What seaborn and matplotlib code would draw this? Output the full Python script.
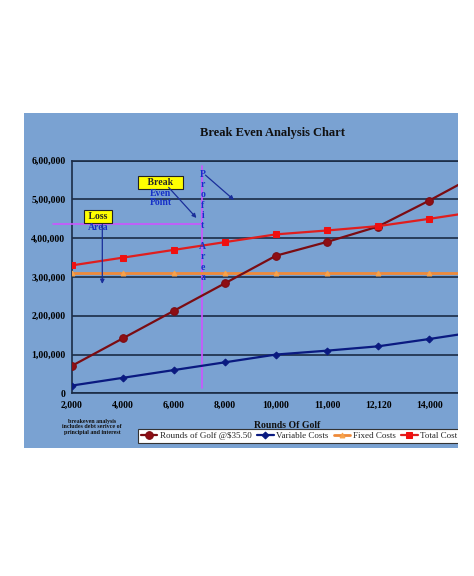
import matplotlib
matplotlib.use("Agg")
import matplotlib.pyplot as plt
import seaborn as sns
from matplotlib.patches import Rectangle

# categories on the x axis (last one runs off the right edge of the picture)
rounds = ['2,000', '4,000', '6,000', '8,000', '10,000', '11,000', '12,120', '14,000', '16,000']
# series values
revenue = [71000, 142000, 213000, 284000, 355000, 390500, 430260, 497000, 568000]
variable_costs = [20000, 40000, 60000, 80000, 100000, 110000, 121200, 140000, 160000]
fixed_costs = [310000, 310000, 310000, 310000, 310000, 310000, 310000, 310000, 310000]
total_costs = [330000, 350000, 370000, 390000, 410000, 420000, 431200, 450000, 470000]
# y tick labels (indian grouping as in the picture)
y_ticks = [0, 100000, 200000, 300000, 400000, 500000, 600000]
y_labels = ['0', '1,00,000', '2,00,000', '3,00,000', '4,00,000', '5,00,000', '6,00,000']

BLUE = '#7AA2D2'
DARK = '#1B2C46'
W, H = 474, 576

sns.set_style('white')
plt.rcParams['font.family'] = ['Liberation Serif', 'DejaVu Serif']

fig = plt.figure(figsize=(W / 100, H / 100), dpi=100)
fig.patch.set_facecolor('white')
# blue chart area, kept behind the axes
fig.patches.append(Rectangle((24 / W, 1 - 448 / H), 433.5 / W, 335 / H,
                             transform=fig.transFigure, facecolor=BLUE,
                             edgecolor='none', zorder=-5))

ax = fig.add_axes([72 / W, 1 - 393.3 / H, (457.7 - 72) / W, (393.3 - 160.7) / H])
ax.set_zorder(1)
ax.set_facecolor('none')
x = list(range(len(rounds)))

sns.lineplot(x=x, y=revenue, ax=ax, color='#7B0C12', lw=1.6, marker='o',
             markersize=5.5, markeredgecolor='#7B0C12', markerfacecolor='#8E0E14',
             label='Rounds of Golf @$35.50', zorder=5)
sns.lineplot(x=x, y=variable_costs, ax=ax, color='#0A1A80', lw=1.6, marker='D',
             markersize=3.5, markeredgecolor='#0A1A80', label='Variable Costs', zorder=5)
sns.lineplot(x=x, y=fixed_costs, ax=ax, color='#EE8A3A', lw=2.0, marker='^',
             markersize=3.5, markeredgecolor='#F7A24A', markerfacecolor='#F7A24A',
             label='Fixed Costs', zorder=4)
sns.lineplot(x=x, y=total_costs, ax=ax, color='#E01E1E', lw=1.6, marker='s',
             markersize=5, markeredgecolor='#F01010', markerfacecolor='#F01010',
             label='Total Cost', zorder=5)

ax.set_xticks(x)
ax.set_xticklabels(rounds, fontweight='bold')
ax.set_yticks(y_ticks)
ax.set_yticklabels(y_labels, fontweight='bold')
# limits after the ticks, set_ticks would widen them otherwise
ax.set_xlim(0, 7.56)
ax.set_ylim(0, 600000)
ax.tick_params(axis='both', direction='out', length=2.3, width=1, color=DARK,
               labelsize=7, labelcolor='black')
ax.tick_params(axis='y', pad=2.4)
ax.tick_params(axis='x', pad=3.2)
ax.set_axisbelow(True)
ax.yaxis.grid(True, color=DARK, lw=1.2)
ax.xaxis.grid(False)
for side in ['left', 'bottom', 'top']:
    ax.spines[side].set_color(DARK)
    ax.spines[side].set_linewidth(1.2)
ax.spines['right'].set_visible(False)
ax.set_xlabel('')
ax.set_ylabel('')

# titles and notes
fig.text(273 / W, 1 - 133.3 / H, 'Break Even Analysis Chart', ha='center', va='center',
         fontsize=9, fontweight='bold', color='#111111')
fig.text(286.7 / W, 1 - 425 / H, 'Rounds Of Golf', ha='center', va='center',
         fontsize=7, fontweight='bold', color='#111111')
fig.text(92 / W, 1 - 426.7 / H,
         'breakeven analysis\nincludes debt serivce of\nprincipial and interest',
         ha='center', va='center', fontsize=4.3, fontweight='bold',
         linespacing=1.15, color='#111111')

# annotations (data units)
MAG = '#CC55FF'
ANN = '#1630C8'
ax.plot([2.543, 2.543], [13700, 586000], color=MAG, lw=1.2, zorder=3)
ax.plot([-0.37, 2.543], [435900, 435900], color=MAG, lw=1.2, zorder=3, clip_on=False)

ax.text(1.735, 543800, '   Break   ', ha='center', va='center', fontsize=7, fontweight='bold',
        bbox=dict(boxstyle='square,pad=0.2', facecolor='#FFFF00', edgecolor='#222222', lw=0.8),
        zorder=6)
ax.text(1.53, 503000, 'Even\nPoint', ha='left', va='center', fontsize=7, fontweight='bold',
        color=ANN, linespacing=1.05, zorder=6)
ax.annotate('', xy=(2.476, 447000), xytext=(1.857, 536500),
            arrowprops=dict(arrowstyle='-|>', color='#1A2E9A', lw=0.9, mutation_scale=6),
            zorder=6)

ax.text(0.51, 455000, ' Loss ', ha='center', va='center', fontsize=7, fontweight='bold',
        bbox=dict(boxstyle='square,pad=0.2', facecolor='#FFFF00', edgecolor='#222222', lw=0.8),
        zorder=6)
ax.text(0.51, 427000, 'Area', ha='center', va='center', fontsize=7, fontweight='bold',
        color=ANN, zorder=6)
ax.annotate('', xy=(0.594, 275000), xytext=(0.594, 442600),
            arrowprops=dict(arrowstyle='-|>', color='#1A2E9A', lw=0.9, mutation_scale=6),
            zorder=6)

ax.text(2.563, 577000, 'P\nr\no\nf\ni\nt\n\nA\nr\ne\na', ha='center', va='top',
        fontsize=7, fontweight='bold', color=ANN, linespacing=1.19, zorder=6)
ax.annotate('', xy=(3.216, 494000), xytext=(2.575, 567500),
            arrowprops=dict(arrowstyle='-|>', color='#1A2E9A', lw=0.9, mutation_scale=6),
            zorder=6)

# legend runs off to the right like in the picture
handles, labels = ax.get_legend_handles_labels()
leg = ax.legend(handles, labels, loc='lower left', ncol=4,
                bbox_to_anchor=(138 / W, 1 - 443 / H), bbox_transform=fig.transFigure,
                frameon=True, fancybox=False, framealpha=1, edgecolor='#333333',
                fontsize=6.5, handlelength=1.85, handletextpad=0.3, columnspacing=0.55,
                borderpad=0.3, borderaxespad=0)
leg.get_frame().set_linewidth(0.8)

# the picture is cropped just right of the chart
fig.patches.append(Rectangle((457.5 / W, 0), 1 - 457.5 / W, 1, transform=fig.transFigure,
                             facecolor='white', edgecolor='none', zorder=10))

fig.savefig('out.png', dpi=100)
